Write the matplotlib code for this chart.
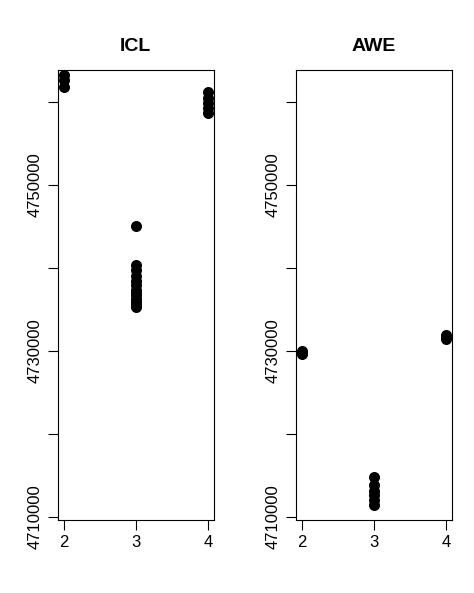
import matplotlib
matplotlib.use("Agg")
import matplotlib.pyplot as plt
plt.rcParams['font.family'] = ['Liberation Sans', 'DejaVu Sans']

icl_x = [2,2,2, 3,3,3,3,3,3,3,3,3,3,3,3,3, 4,4,4,4,4]
icl_y = [4763250,4762650,4761800,
         4745060,4740420,4739700,4739000,4738400,4737900,4737400,4737050,4736700,4736300,4736000,4735650,4735300,
         4761200,4760500,4759900,4759300,4758700]
awe_x = [2,2,2, 3,3,3,3,3,3, 4,4,4]
awe_y = [4730000,4729800,4729650,
         4714800,4713900,4713200,4712600,4712000,4711450,
         4731900,4731650,4731450]
titles = ["ICL", "AWE"]
yticks = [4710000,4720000,4730000,4740000,4750000,4760000]
ylabels = ["4710000","","4730000","","4750000",""]

fig = plt.figure(figsize=(4.74,5.93), dpi=100)
lefts = [0.122, 0.624]
for left, xs, ys, t in zip(lefts, [icl_x, awe_x], [icl_y, awe_y], titles):
    ax = fig.add_axes([left, 0.123, 0.329, 0.759])
    ax.scatter(xs, ys, s=48, color="black", zorder=3)
    ax.set_xlim(1.92, 4.08)
    ax.set_ylim(4709640, 4763850)
    ax.set_xticks([2,3,4])
    ax.set_yticks(yticks)
    ax.set_yticklabels(ylabels, rotation=90, va="center")
    ax.tick_params(direction="out", length=7, labelsize=12, width=0.8)
    ax.tick_params(axis="y", pad=4)
    ax.set_title(t, fontsize=14, fontweight="bold", pad=14)
    for s in ax.spines.values():
        s.set_linewidth(0.8)
fig.savefig("out.png", dpi=100)
